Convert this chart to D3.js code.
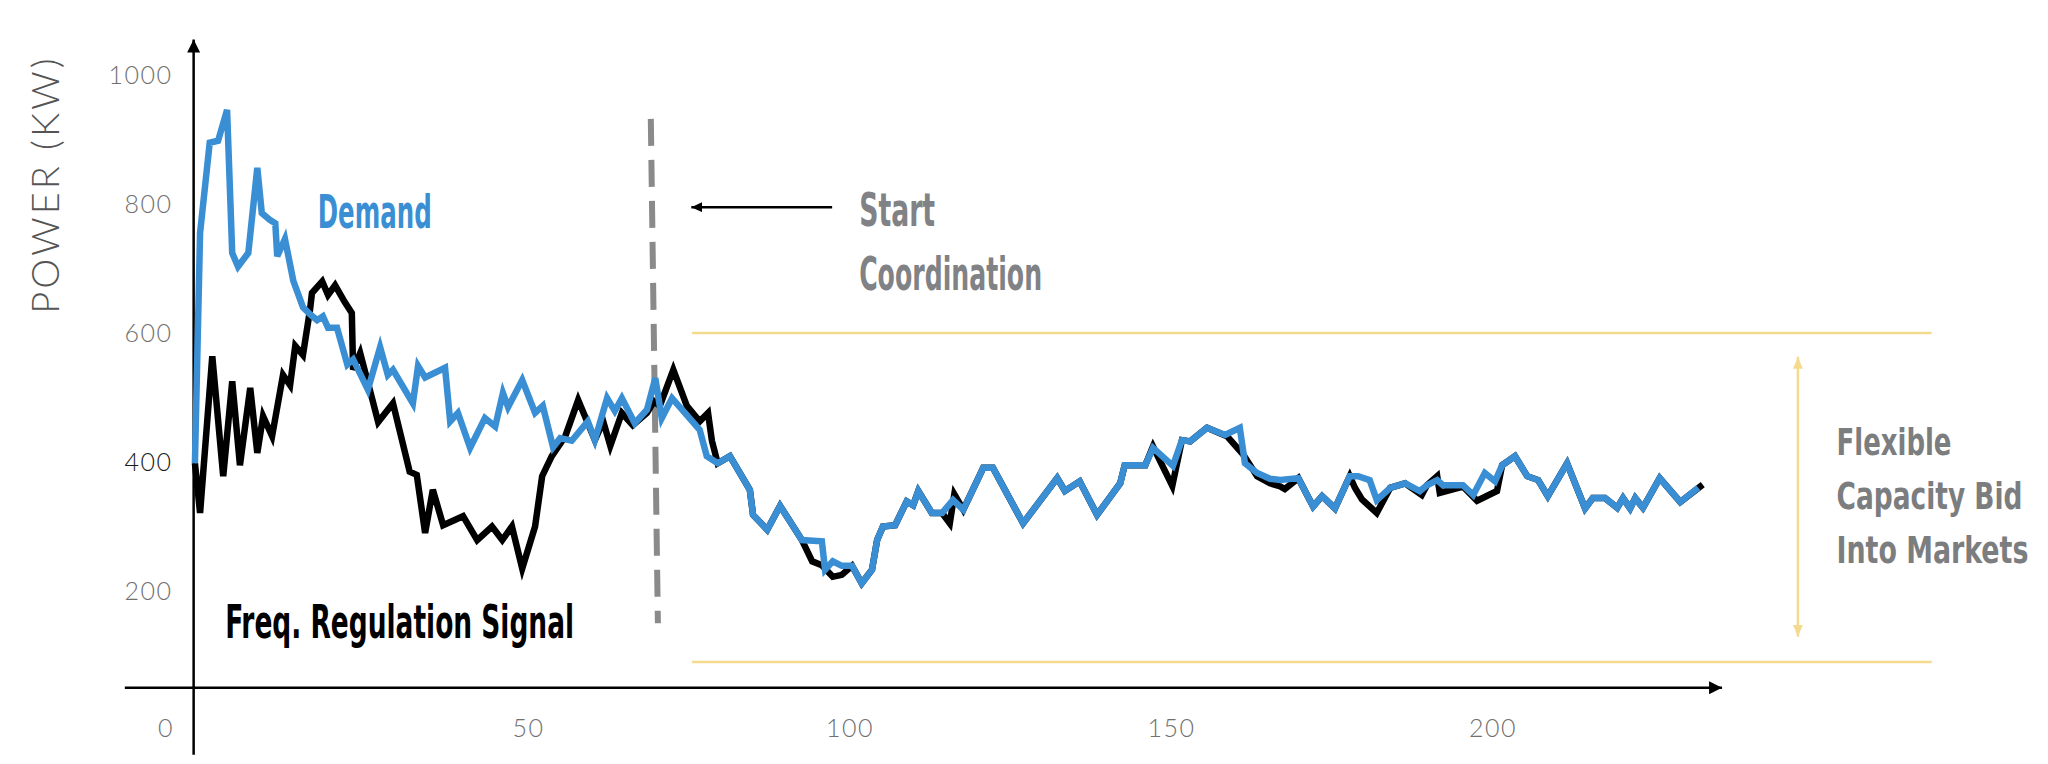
<!DOCTYPE html>
<html><head><meta charset="utf-8">
<script src="https://cdn.jsdelivr.net/npm/d3@7"></script>
<style>html,body{margin:0;padding:0;background:#fff;} svg{display:block;}</style>
</head><body><svg id="chart" width="2048" height="764"></svg>
<script>
// ---------- DATA ----------
const demandTime = [-1.8,-1.0,0.5,1.8,3.2,4.0,4.9,6.5,7.9,8.6,9.9,10.7,11.0,12.2,13.5,15.0,16.1,17.2,18.1,18.9,20.3,21.9,22.8,25.1,27.0,28.2,29.0,32.1,32.9,34.0,37.1,37.9,39.1,41.0,43.3,44.9,46.1,46.9,49.1,51.1,52.3,53.9,55.0,56.8,59.3,60.4,62.3,63.5,64.6,66.6,68.5,69.8,70.8,72.4,76.7,77.8,79.5,81.4,84.5,85.0,87.2,89.2,92.6,95.7,96.2,97.4,98.8,100.4,101.9,103.5,104.3,105.2,107.1,108.9,109.9,110.7,112.8,114.4,116.1,117.7,120.8,122.3,127.0,132.3,133.5,135.8,138.5,142.1,142.8,146.0,147.2,150.3,151.7,153.0,155.6,158.4,160.7,161.5,163.4,165.4,167.0,169.8,172.1,173.5,175.5,177.8,179.1,180.9,182.0,184.1,186.4,188.7,189.8,191.4,192.3,195.4,197.0,198.8,200.4,201.5,203.5,205.4,207.1,208.6,211.6,214.4,215.6,217.5,219.4,220.3,221.4,222.2,223.4,226.0,229.2,232.0];
const demandKW = [398,755,895,898,946,724,703,724,856,786,775,770,719,746,681,640,629,620,626,608,608,551,559,512,578,535,543,491,549,531,546,463,476,422,468,455,507,485,527,476,487,423,437,433,463,434,499,479,499,460,481,530,468,499,450,409,398,409,357,318,295,332,279,277,233,246,239,239,212,233,279,300,302,339,333,355,321,321,341,326,391,391,305,375,355,370,318,367,395,395,422,394,434,432,453,442,453,398,383,374,372,375,331,347,328,378,378,372,341,360,367,355,364,372,364,364,349,383,370,395,409,378,372,347,398,328,344,344,329,344,328,344,329,375,338,360];

const signalTime = [-1.8,-1.0,0.9,2.6,4.0,5.2,6.8,7.9,8.8,10.2,11.9,13.0,13.8,15.0,16.1,16.4,18.0,18.9,20.0,21.5,22.6,22.8,23.9,25.4,26.7,29.0,31.6,32.7,34.0,35.2,36.8,39.9,42.1,44.4,46.0,47.5,49.1,51.1,52.2,53.7,55.8,57.8,60.4,61.7,62.8,64.6,66.3,68.5,69.6,70.5,72.6,74.7,76.7,78.0,78.6,79.5,81.4,84.5,85.0,87.2,89.2,92.6,94.2,95.7,97.4,98.8,100.4,101.9,103.5,104.3,105.2,107.1,108.9,109.9,110.7,112.8,114.4,115.6,116.3,117.7,120.8,122.3,127.0,132.3,133.5,135.8,138.5,142.1,142.8,146.0,147.2,150.2,151.7,153.0,155.6,158.7,161.2,163.4,165.4,167.0,167.7,169.8,172.1,173.5,175.5,177.8,178.6,179.7,182.0,184.1,186.4,189.0,189.8,191.4,191.8,195.4,197.6,200.7,201.5,203.5,205.4,207.1,208.6,211.6,214.4,215.6,217.5,219.4,220.3,221.4,222.2,223.4,226.0,229.2,232.7];
const signalKW = [398,321,564,378,525,395,515,414,471,440,535,519,580,566,636,662,680,659,674,648,631,543,569,512,462,491,385,380,290,357,302,316,279,300,279,300,235,300,378,409,440,496,434,463,425,476,457,476,494,487,543,487,463,476,433,398,409,357,318,295,332,279,246,240,222,225,239,212,233,279,300,302,339,333,355,321,321,305,350,326,391,391,305,375,355,370,318,367,395,395,424,363,434,432,453,440,412,378,367,362,358,375,331,347,328,378,360,342,321,360,367,349,364,378,352,362,340,355,395,409,378,372,347,398,328,344,344,329,344,328,344,329,375,338,365];

const xTickValues = [50, 100, 150, 200];
const yTickValues = [200, 400, 600, 800, 1000];
const bandKW = [90, 600];                 // flexible capacity band (kW)
const bandTime = [75.5, 268.3];           // band extent (time units)
const coordinationTime = [69.1, 70.2];    // dashed marker (slightly slanted)
const coordinationKW = [932, 150];

// ---------- SCALES ----------
const svg = d3.select("#chart");
svg.append("rect").attr("width", 2048).attr("height", 764).attr("fill", "#fff");
const x = d3.scaleLinear().domain([0, 200]).range([206.5, 1492.5]);
const y = d3.scaleLinear().domain([0, 1000]).range([720, 75]);

const BLUE = "#3a8fd4", GRAY_TXT = "#808285", YELLOW = "#f3da8e", TICK = "#707070";
const condensed = "'Liberation Sans Narrow','DejaVu Sans Condensed','DejaVu Sans',sans-serif";
const thin = "Lato,'Open Sans',sans-serif";

// ---------- MARKERS ----------
const defs = svg.append("defs");
function marker(id, color, w, h) {
  defs.append("marker").attr("id", id).attr("markerUnits", "userSpaceOnUse")
    .attr("markerWidth", w).attr("markerHeight", h).attr("refX", w).attr("refY", h / 2)
    .attr("orient", "auto-start-reverse")
    .append("path").attr("d", `M0,0 L${w},${h/2} L0,${h} Z`).attr("fill", color);
}
marker("arrBlack", "#000", 13, 13);
marker("arrSmall", "#000", 11, 10);
marker("arrYellow", YELLOW, 12, 10);

// ---------- ANNOTATION BAND ----------
bandKW.forEach(v => {
  svg.append("line").attr("x1", x(bandTime[0])).attr("x2", x(bandTime[1]))
    .attr("y1", y(v)).attr("y2", y(v)).attr("stroke", YELLOW).attr("stroke-width", 2.5);
});
svg.append("line").attr("x1", x(247.5)).attr("x2", x(247.5))
  .attr("y1", y(129)).attr("y2", y(563)).attr("stroke", YELLOW).attr("stroke-width", 2.5)
  .attr("marker-start", "url(#arrYellow)").attr("marker-end", "url(#arrYellow)");

// ---------- AXES ----------
svg.append("line").attr("x1", x(-2)).attr("x2", x(-2)).attr("y1", y(-54)).attr("y2", y(1055))
  .attr("stroke", "#000").attr("stroke-width", 2.5).attr("marker-end", "url(#arrBlack)");
svg.append("line").attr("x1", x(-12.7)).attr("x2", x(235.7)).attr("y1", y(50)).attr("y2", y(50))
  .attr("stroke", "#000").attr("stroke-width", 2.5).attr("marker-end", "url(#arrBlack)");

const yAxis = svg.append("g").attr("transform", `translate(${x(-2)},0)`)
  .call(d3.axisLeft(y).tickValues(yTickValues).tickSize(0).tickPadding(21).tickFormat(d3.format("d")));
yAxis.select(".domain").remove();
yAxis.selectAll("text").attr("font-family", thin).attr("font-weight", 300).attr("font-size", 25)
  .attr("letter-spacing", 1.5).attr("fill", d => d === 400 ? "#1a1a1a" : TICK);

const xAxis = svg.append("g").attr("transform", `translate(0,${y(50)})`)
  .call(d3.axisBottom(x).tickValues(xTickValues).tickSize(0).tickPadding(31).tickFormat(d3.format("d")));
xAxis.select(".domain").remove();
xAxis.selectAll("text").attr("font-family", thin).attr("font-weight", 300).attr("font-size", 25)
  .attr("letter-spacing", 1.5).attr("fill", TICK);

svg.append("text").attr("x", x(-2) - 21).attr("y", y(50) + 31).attr("dy", "0.71em")
  .attr("text-anchor", "end").attr("font-family", thin).attr("font-weight", 300).attr("font-size", 25)
  .attr("fill", TICK).text("0");

svg.append("text").attr("transform", `translate(44,${y(830)}) rotate(-90)`)
  .attr("text-anchor", "middle").attr("dominant-baseline", "central")
  .attr("font-family", thin).attr("font-weight", 300).attr("font-size", 38).attr("letter-spacing", 3)
  .attr("fill", "#555").text("POWER (KW)");

// ---------- COORDINATION MARKER ----------
svg.append("line").attr("x1", x(coordinationTime[0])).attr("x2", x(coordinationTime[1]))
  .attr("y1", y(coordinationKW[0])).attr("y2", y(coordinationKW[1]))
  .attr("stroke", "#8a8a8a").attr("stroke-width", 6).attr("stroke-dasharray", "27,14");

svg.append("line").attr("x1", x(97.3)).attr("x2", x(75.4)).attr("y1", y(795)).attr("y2", y(795))
  .attr("stroke", "#000").attr("stroke-width", 2.5).attr("marker-end", "url(#arrSmall)");

// ---------- SERIES ----------
const line = d3.line().x(d => x(d[0])).y(d => y(d[1]));
const signal = signalTime.map((t, i) => [t, signalKW[i]]);
const demand = demandTime.map((t, i) => [t, demandKW[i]]);
svg.append("path").datum(signal).attr("d", line).attr("fill", "none").attr("stroke", "#000")
  .attr("stroke-width", 6.5).attr("stroke-linejoin", "miter").attr("stroke-miterlimit", 4);
svg.append("path").datum(demand).attr("d", line).attr("fill", "none").attr("stroke", BLUE)
  .attr("stroke-width", 6.5).attr("stroke-linejoin", "miter").attr("stroke-miterlimit", 4);

// ---------- LABELS (condensed: natural text squeezed horizontally to target width) ----------
function label(t, v, txt, color, size, width) {
  const el = svg.append("text").attr("x", 0).attr("y", 0).attr("font-family", condensed)
    .attr("font-weight", "bold").attr("font-stretch", "condensed").attr("font-size", size)
    .attr("fill", color).text(txt);
  const natural = el.node().getComputedTextLength() || width;
  el.attr("transform", `translate(${x(t)},${y(v)}) scale(${width / natural},1)`);
}
label(17.3, 763, "Demand", BLUE, 46, 114);
label(2.9, 127, "Freq. Regulation Signal", "#000", 46, 349);
label(101.5, 766, "Start", GRAY_TXT, 46, 76);
label(101.5, 667, "Coordination", GRAY_TXT, 46, 183);
label(253.5, 411, "Flexible", "#7b7d7f", 38, 115);
label(253.5, 327, "Capacity Bid", "#7b7d7f", 38, 186);
label(253.5, 243, "Into Markets", "#7b7d7f", 38, 192);
</script></body></html>
